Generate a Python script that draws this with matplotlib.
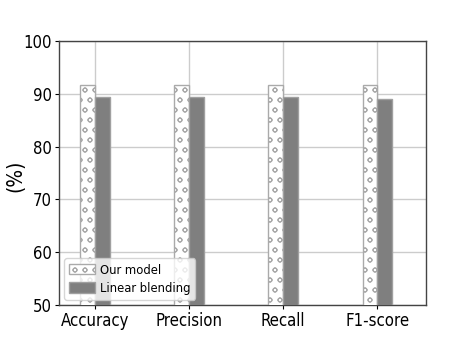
import matplotlib
matplotlib.use("Agg")
import matplotlib.pyplot as plt
import numpy as np

categories = ["Accuracy", "Precision", "Recall", "F1-score"]
our_model = [91.6, 91.6, 91.6, 91.6]
linear_blending = [89.3, 89.3, 89.3, 89.1]
yticks = [50, 60, 70, 80, 90, 100]

DPI = 120
s = 100 / DPI  # keep pixel sizes as if drawn at 100 dpi

plt.rcParams['hatch.color'] = '#8a8a8a'
plt.rcParams['hatch.linewidth'] = 0.8 * s
plt.rcParams['font.stretch'] = 'condensed'

fig = plt.figure(figsize=(474 / DPI, 353 / DPI), dpi=DPI)
ax = fig.add_axes([59/474, 48/353, (426-59)/474, (305-41)/353])
x = np.arange(len(categories))
w = 0.155
ax.bar(x, our_model, width=-w, align='edge', color='white', edgecolor='#aaaaaa',
       hatch='oo', linewidth=1 * s, label='Our model', zorder=3)
ax.bar(x, linear_blending, width=w, align='edge', color='#7f7f7f', edgecolor='#a0a0a0',
       linewidth=1 * s, label='Linear blending', zorder=3)
ax.set_ylim(50, 100)
ax.set_yticks(yticks)
ax.set_xlim(-0.383, 3.52)
ax.set_xticks(x)
ax.set_xticklabels(categories)
ax.tick_params(labelsize=12 * s, length=3 * s, width=0.8 * s, pad=2 * s)
ax.grid(True, color='#cccccc', linewidth=1 * s, zorder=0)
ax.set_axisbelow(True)
for sp in ax.spines.values():
    sp.set_color('#444444')
    sp.set_linewidth(1 * s)
ax.set_ylabel('(%)', fontsize=15 * s)
ax.yaxis.set_label_coords(-0.092, 0.49)
leg = ax.legend(loc='lower left', fontsize=9.3 * s, framealpha=0.8, borderaxespad=0.4,
                handlelength=2.0, handleheight=0.9, handletextpad=0.35,
                borderpad=0.4, labelspacing=0.4)
leg.get_frame().set_linewidth(1 * s)
fig.savefig('out.png', dpi=DPI)
